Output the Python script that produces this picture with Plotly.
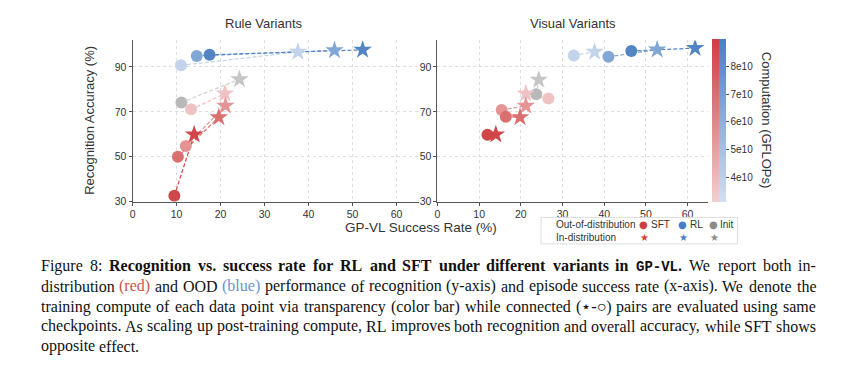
import plotly.graph_objects as go

# ---------------- data ----------------
sft_compute = [3.6e10, 5.5e10, 7.0e10, 8.6e10]
rl_compute = [3.8e10, 6.5e10, 8.6e10]

rule_sft_ood_x = [13.3, 12.1, 10.3, 9.5]
rule_sft_ood_y = [71.1, 54.8, 50.0, 32.6]
rule_sft_id_x = [21.0, 21.1, 19.6, 14.0]
rule_sft_id_y = [78.1, 72.7, 67.6, 59.9]
rule_rl_ood_x = [11.0, 14.6, 17.5]
rule_rl_ood_y = [90.7, 94.9, 95.4]
rule_rl_id_x = [37.6, 45.9, 52.3]
rule_rl_id_y = [96.7, 97.4, 97.6]
rule_init_ood_x = [11.1]
rule_init_ood_y = [74.2]
rule_init_id_x = [24.3]
rule_init_id_y = [84.5]

visual_sft_ood_x = [26.6, 15.4, 16.4, 12.0]
visual_sft_ood_y = [75.9, 70.8, 67.8, 59.8]
visual_sft_id_x = [21.2, 21.2, 19.8, 14.0]
visual_sft_id_y = [78.1, 72.7, 67.6, 59.9]
visual_rl_ood_x = [32.7, 41.0, 46.5]
visual_rl_ood_y = [95.1, 94.5, 97.1]
visual_rl_id_x = [37.7, 52.7, 61.8]
visual_rl_id_y = [96.7, 97.7, 98.4]
visual_init_ood_x = [23.7]
visual_init_ood_y = [77.8]
visual_init_id_x = [24.3]
visual_init_id_y = [84.3]

x_ticks = [0, 10, 20, 30, 40, 50, 60]
y_ticks = [30, 50, 70, 90]
cbar_ticks = [4e10, 5e10, 6e10, 7e10, 8e10]
cbar_ticktext = ["4e10", "5e10", "6e10", "7e10", "8e10"]

panel_titles = ["Rule Variants", "Visual Variants"]

# ---------------- styling ----------------
CMIN, CMAX = 3.1e10, 9.0e10
A0 = 0.25
RED = (205, 62, 64)
BLUE = (74, 126, 194)
GRAY_C = "#b9b9b9"
GRAY_S = "#c6c6c6"
FONT = "Liberation Sans"
SERIF = "Liberation Serif"

# page body has an 8px margin: figure is placed at (8, 8)
OFF = 8
W, H = 827, 353


def fx(x):
    return (x - OFF) / W


def fy(y):
    return 1 - (y - OFF) / H


def blend(rgb, a):
    return "rgb(%d,%d,%d)" % tuple(round(255 + (c - 255) * a) for c in rgb)


def cmap(rgb, v):
    t = (v - CMIN) / (CMAX - CMIN)
    return blend(rgb, A0 + (1 - A0) * t)


def scale(rgb):
    return [[i / 10, blend(rgb, A0 + (1 - A0) * i / 10)] for i in range(11)]


fig = go.Figure()

dom_x = [[fx(130), fx(417)], [fx(436), fx(708)]]
dom_y = [fy(205), fy(41)]

panels = [
    dict(sx=rule_sft_ood_x, sy=rule_sft_ood_y, six=rule_sft_id_x, siy=rule_sft_id_y,
         rx=rule_rl_ood_x, ry=rule_rl_ood_y, rix=rule_rl_id_x, riy=rule_rl_id_y,
         gx=rule_init_ood_x, gy=rule_init_ood_y, gix=rule_init_id_x, giy=rule_init_id_y),
    dict(sx=visual_sft_ood_x, sy=visual_sft_ood_y, six=visual_sft_id_x, siy=visual_sft_id_y,
         rx=visual_rl_ood_x, ry=visual_rl_ood_y, rix=visual_rl_id_x, riy=visual_rl_id_y,
         gx=visual_init_ood_x, gy=visual_init_ood_y, gix=visual_init_id_x, giy=visual_init_id_y),
]

DASH = "4px,2px"
cb_y = fy(122.5)
red_cb = dict(x=fx(712), xanchor="left", y=cb_y, yanchor="middle", lenmode="pixels", len=163,
              thickness=6.5, outlinewidth=0, xpad=0, ypad=0, showticklabels=False, ticks="")
blue_cb = dict(x=fx(718.5), xanchor="left", y=cb_y, yanchor="middle", lenmode="pixels", len=163,
               thickness=6.5, outlinewidth=0, xpad=0, ypad=0, tickvals=cbar_ticks, ticktext=cbar_ticktext,
               ticks="outside", ticklen=3, tickcolor="#555", tickfont=dict(family=FONT, size=10, color="#333"))

for k, p in enumerate(panels):
    xa = "x" if k == 0 else "x2"
    ya = "y" if k == 0 else "y2"
    for i in range(len(p["sx"])):
        fig.add_trace(go.Scatter(x=[p["sx"][i], p["six"][i]], y=[p["sy"][i], p["siy"][i]],
                                 mode="lines", xaxis=xa, yaxis=ya, showlegend=False, hoverinfo="skip",
                                 line=dict(color=cmap(RED, sft_compute[i]), width=1.2, dash=DASH)))
    for i in range(len(p["rx"])):
        fig.add_trace(go.Scatter(x=[p["rx"][i], p["rix"][i]], y=[p["ry"][i], p["riy"][i]],
                                 mode="lines", xaxis=xa, yaxis=ya, showlegend=False, hoverinfo="skip",
                                 line=dict(color=cmap(BLUE, rl_compute[i]), width=1.2, dash=DASH)))
    fig.add_trace(go.Scatter(x=p["gx"] + p["gix"], y=p["gy"] + p["giy"], mode="lines",
                             xaxis=xa, yaxis=ya, showlegend=False, hoverinfo="skip",
                             line=dict(color="#d0d0d0", width=1.2, dash=DASH)))
    fig.add_trace(go.Scatter(x=p["gx"], y=p["gy"], mode="markers", xaxis=xa, yaxis=ya, showlegend=False,
                             marker=dict(symbol="circle", size=12, color=GRAY_C)))
    fig.add_trace(go.Scatter(x=p["gix"], y=p["giy"], mode="markers", xaxis=xa, yaxis=ya, showlegend=False,
                             marker=dict(symbol="star", size=14, color=GRAY_S)))
    fig.add_trace(go.Scatter(x=p["sx"], y=p["sy"], mode="markers", xaxis=xa, yaxis=ya, showlegend=False,
                             marker=dict(symbol="circle", size=12, color=sft_compute, colorscale=scale(RED),
                                         cmin=CMIN, cmax=CMAX, showscale=(k == 0), colorbar=red_cb)))
    fig.add_trace(go.Scatter(x=p["six"], y=p["siy"], mode="markers", xaxis=xa, yaxis=ya, showlegend=False,
                             marker=dict(symbol="star", size=14, color=sft_compute, colorscale=scale(RED),
                                         cmin=CMIN, cmax=CMAX, showscale=False)))
    fig.add_trace(go.Scatter(x=p["rx"], y=p["ry"], mode="markers", xaxis=xa, yaxis=ya, showlegend=False,
                             marker=dict(symbol="circle", size=12, color=rl_compute, colorscale=scale(BLUE),
                                         cmin=CMIN, cmax=CMAX, showscale=(k == 0), colorbar=blue_cb)))
    fig.add_trace(go.Scatter(x=p["rix"], y=p["riy"], mode="markers", xaxis=xa, yaxis=ya, showlegend=False,
                             marker=dict(symbol="star", size=14, color=rl_compute, colorscale=scale(BLUE),
                                         cmin=CMIN, cmax=CMAX, showscale=False)))

axis_common = dict(showline=True, linecolor="#555", linewidth=1, ticks="outside", ticklen=3,
                   tickcolor="#555", tickfont=dict(family=FONT, size=10.5, color="#333"),
                   showgrid=True, gridcolor="#dedede", griddash="dot", gridwidth=1, zeroline=False,
                   mirror=False)
fig.update_layout(
    xaxis=dict(domain=dom_x[0], range=[0, 65], tickvals=x_ticks, anchor="y", **axis_common),
    yaxis=dict(domain=dom_y, range=[30, 101.8], tickvals=y_ticks, anchor="x", **axis_common),
    xaxis2=dict(domain=dom_x[1], range=[0, 65], tickvals=x_ticks, anchor="y2", **axis_common),
    yaxis2=dict(domain=dom_y, range=[30, 101.8], tickvals=y_ticks, anchor="x2", **axis_common),
    width=W, height=H, margin=dict(l=0, r=0, t=0, b=0),
    paper_bgcolor="white", plot_bgcolor="white", showlegend=False,
)

ann = []


def px(x, y, text, size, xanchor="center", yanchor="middle", family=FONT, color="#333", **kw):
    d = dict(x=fx(x), y=fy(y), xref="paper", yref="paper", text=text, showarrow=False,
             xanchor=xanchor, yanchor=yanchor, borderpad=0,
             font=dict(family=family, size=size, color=color))
    d.update(kw)
    ann.append(d)


px(262, 24, panel_titles[0], 13)
px(572, 24, panel_titles[1], 13)
px(419, 231, "GP-VL Success Rate (%)", 13.5)
px(86, 122, "Recognition Accuracy (%)", 13, textangle=-90)
px(767, 122, "Computation (GFLOPs)", 13, textangle=90)

# legend box
fig.add_shape(type="rect", xref="paper", yref="paper", x0=fx(540), x1=fx(737), y0=fy(248), y1=fy(221),
              line=dict(color="#dddddd", width=1), fillcolor="white")
legend_rows = ["Out-of-distribution", "In-distribution"]
legend_labels = ["SFT", "RL", "Init"]
legend_colors = [blend(RED, 1), blend(BLUE, 1), "#8a8a8a"]
lx_dot = [643, 682, 713]
for r, (lab, yy) in enumerate(zip(legend_rows, [228, 241])):
    px(554, yy, lab, 10, xanchor="left")
    for j in range(3):
        if r == 0:
            px(lx_dot[j], yy, "●", 10, color=legend_colors[j], family="DejaVu Sans")
            px(lx_dot[j] + 6, yy, legend_labels[j], 10, xanchor="left")
        else:
            px(lx_dot[j] + 1, yy, "★", 10, color=legend_colors[j], family="DejaVu Sans")

# ---------------- caption (justified word by word) ----------------
REG = dict(zip("abcdefghijklmnopqrstuvwxyz",
               [444, 500, 444, 500, 444, 333, 500, 500, 278, 278, 500, 278, 778, 500, 500, 500, 500, 333,
                389, 278, 500, 500, 722, 500, 500, 444]))
REG.update(dict(zip("ABCDEFGHIJKLMNOPQRSTUVWXYZ",
                    [722, 667, 667, 722, 611, 556, 722, 722, 333, 389, 722, 611, 889, 722, 722, 556, 722, 667,
                     556, 611, 722, 722, 944, 722, 722, 611])))
REG.update({" ": 250, ".": 250, ",": 250, ":": 278, "-": 333, "(": 333, ")": 333, "\u22c6": 500, "\u25cb": 700})
REG.update({d: 500 for d in "0123456789"})
BOLD = dict(zip("abcdefghijklmnopqrstuvwxyz",
                [500, 556, 444, 556, 444, 333, 500, 556, 278, 333, 556, 278, 833, 556, 500, 556, 556, 444,
                 389, 333, 556, 500, 722, 500, 500, 444]))
BOLD.update(dict(zip("ABCDEFGHIJKLMNOPQRSTUVWXYZ",
                     [722, 667, 722, 722, 667, 611, 778, 778, 389, 500, 778, 667, 944, 722, 778, 611, 778, 722,
                      556, 667, 722, 722, 1000, 722, 722, 667])))
BOLD.update({" ": 250, ".": 250, ",": 250, ":": 333, "-": 333, "(": 333, ")": 333})

CAP_SIZE = 16
MONO_SIZE = 14


def word_width(word, style):
    if style == "mono":
        return 0.6 * MONO_SIZE * len(word)
    table = BOLD if style == "bold" else REG
    return sum(table.get(c, 500) for c in word) * CAP_SIZE / 1000


def word_html(word, style):
    if style == "bold":
        return "<b>%s</b>" % word
    if style == "red":
        return "<span style='color:#c9554f'>%s</span>" % word
    if style == "blue":
        return "<span style='color:#6a93cf'>%s</span>" % word
    return word


caption_lines = [
    [("Figure", "r"), ("8:", "r")] + [(w, "bold") for w in
     "Recognition vs. success rate for RL and SFT under different variants in".split()]
    + [("GP-VL", "mono"), ("We", "r"), ("report", "r"), ("both", "r"), ("in-", "r")],
    [("distribution", "r"), ("(red)", "red"), ("and", "r"), ("OOD", "r"), ("(blue)", "blue")]
    + [(w, "r") for w in "performance of recognition (y-axis) and episode success rate (x-axis). We denote the".split()],
    [(w, "r") for w in
     "training compute of each data point via transparency (color bar) while connected (\u22c6-\u25cb) pairs are evaluated using same".split()],
    [(w, "r") for w in
     "checkpoints. As scaling up post-training compute, RL improves both recognition and overall accuracy, while SFT shows".split()],
    [(w, "r") for w in "opposite effect.".split()],
]
cap_y = [270, 291, 312, 332, 352]
X0, X1 = 37, 815
for li, (words, yy) in enumerate(zip(caption_lines, cap_y)):
    widths = []
    for w, s in words:
        ww = word_width(w, s)
        if s == "mono":
            ww += word_width(".", "bold")
        widths.append(ww)
    if li < len(caption_lines) - 1:
        gap = (X1 - X0 - sum(widths)) / (len(words) - 1)
    else:
        gap = 4.0
    x = X0
    for (w, s), ww in zip(words, widths):
        if s == "mono":
            html = ("<b><span style='font-family:Liberation Mono;font-size:%dpx'>%s</span>.</b>"
                    % (MONO_SIZE, w))
        else:
            html = word_html(w, s)
        px(x, yy, html, CAP_SIZE, xanchor="left", family=SERIF, color="#111")
        x += ww + gap

fig.update_layout(annotations=ann)
fig.write_html("out.html")
